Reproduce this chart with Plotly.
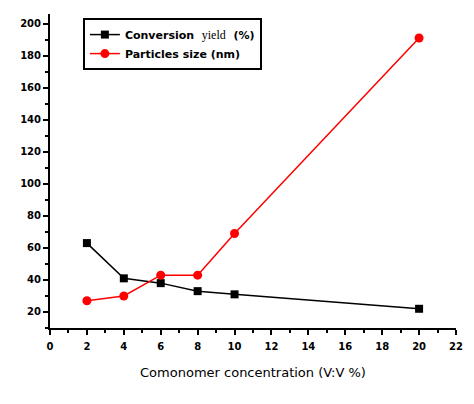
import plotly.graph_objects as go

concentration = [2, 4, 6, 8, 10, 20]
conversion_yield = [63, 41, 38, 33, 31, 22]
particle_size = [27, 30, 43, 43, 69, 191]

x_ticks = list(range(0, 23, 2))
y_ticks = list(range(20, 201, 20))

fig = go.Figure()
fig.add_trace(go.Scatter(
    x=concentration, y=conversion_yield, mode="lines+markers",
    name='Conversion  <span style="font-family:Liberation Serif;font-weight:normal;font-size:12px">yield</span>  (%)',
    line=dict(color="black", width=1.5),
    marker=dict(symbol="square", size=8, color="black"),
))
fig.add_trace(go.Scatter(
    x=concentration, y=particle_size, mode="lines+markers",
    name="Particles size (nm)",
    line=dict(color="red", width=1.5),
    marker=dict(symbol="circle", size=9, color="red"),
))

axis_common = dict(
    showgrid=False, zeroline=False, showline=True, linecolor="black", linewidth=2,
    ticks="outside", ticklen=5, tickwidth=2, tickcolor="black",
    tickfont=dict(family="DejaVu Sans", size=10, color="black", weight="bold"),
)

fig.update_xaxes(
    range=[0, 22], tickvals=x_ticks, ticklabelstandoff=3,
    title=dict(text="Comonomer concentration (V:V %)", standoff=17,
               font=dict(family="DejaVu Sans", size=13, color="black")),
    minor=dict(ticks="outside", dtick=1, ticklen=3, tickwidth=1.5, tickcolor="black"),
    **axis_common,
)
fig.update_yaxes(
    range=[10, 206], tickvals=y_ticks,
    minor=dict(ticks="outside", dtick=10, tick0=0, ticklen=3, tickwidth=1.5, tickcolor="black"),
    **axis_common,
)

# page body adds 8px offset, so the figure is shrunk to keep the plot area in place
fig.update_layout(
    width=466, height=396,
    margin=dict(l=42, r=18, t=6, b=76),
    plot_bgcolor="white", paper_bgcolor="white",
    legend=dict(
        x=0.081, y=0.987, xanchor="left", yanchor="top",
        bordercolor="black", borderwidth=2, bgcolor="white",
        font=dict(family="DejaVu Sans", size=11, color="black", weight="bold"),
        tracegroupgap=0, itemwidth=30,
    ),
)

fig.write_html("out.html")
